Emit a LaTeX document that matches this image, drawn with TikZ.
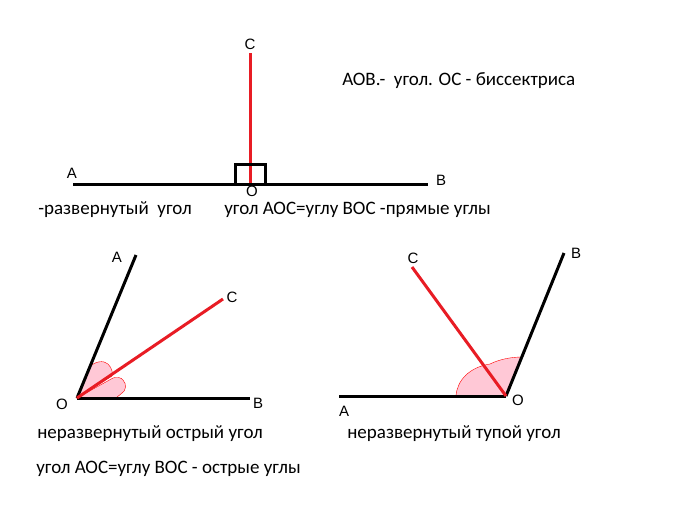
\documentclass[tikz,border=0pt]{standalone}
\usepackage{fontspec}
\setmainfont{Carlito}
\newfontfamily\lblfont{Liberation Sans}
\usepackage{tikz}
\usetikzlibrary{shapes}
\usetikzlibrary{arrows,positioning}
\definecolor{petal}{RGB}{255,200,214}
\definecolor{bisred}{RGB}{232,28,36}

\begin{document}
\begin{tikzpicture}
[x=1pt,y=-1pt,semithick,
 ray/.style={line width=3pt},
 bis/.style={line width=3pt,draw=bisred},
 pt/.style={inner sep=0pt,font=\lblfont\fontsize{15}{18}\selectfont},
 txt/.style={inner sep=0pt,anchor=west,font=\fontsize{19}{22}\selectfont},
 sector/.style={fill=petal,draw=red,thin}]
  \useasboundingbox (0,0) rectangle (688,520);
%
  \coordinate (O1) at (250,184);
  \coordinate (A1) at (73,184);
  \coordinate (B1) at (428,184);
  \coordinate (C1) at (250,53);
  \draw[ray] (A1) -- (B1);
  \draw[bis] (O1) -- (C1);
  \draw[line width=3pt] (O1) ++(-15,0) rectangle ++(30,-20);
  \node[pt] (a1) at (72,173) {A};
  \node[pt] (b1) at (441,180) {B};
  \node[pt] (c1) at (250,44) {C};
  \node[pt] (o1) at (252,191) {O};
  \node[txt] (t1) at (342,81) {АОВ.-\ \ угол. ОС - биссектриса};
  \node[txt] (t2) at (38,210) {-развернутый\ \ угол};
  \node[txt] (t3) [right=32pt of t2] {угол АОС=углу ВОС -прямые углы};
%
  \coordinate (O2) at (77,398);
  \coordinate (A2) at (136,255);
  \coordinate (B2) at (250,398);
  \coordinate (C2) at (223,299);
  \draw[sector] (O2) -- (89,368) .. controls (94,361) and (104,360) .. (108,364)
    .. controls (112,368) and (113,373) .. (112,376) -- cycle;
  \draw[sector] (O2) -- (113,378) .. controls (116,377) and (121,377) .. (123,380)
    .. controls (127,384) and (126,391) .. (122,393) -- (116,398) -- cycle;
  \draw[ray] (O2) -- (A2);
  \draw[ray] (O2) -- (B2);
  \draw[bis] (O2) -- (C2);
  \node[pt] (a2) at (117,257) {A};
  \node[pt] (b2) at (258,403) {B};
  \node[pt] (c2) at (232,297) {C};
  \node[pt] (o2) at (62,404) {O};
  \node[txt] (t4) at (37,434) {неразвернутый острый угол};
  \node[txt] (t5) at (36,469) {угол АОС=углу ВОС - острые углы};
%
  \coordinate (O3) at (506,396);
  \coordinate (A3) at (339,396);
  \coordinate (B3) at (564,253);
  \coordinate (C3) at (412,267);
  \draw[sector] (O3) -- (456,396) .. controls (457,380) and (470,367) .. (490,364)
    .. controls (500,359) and (512,357) .. (522,357) -- cycle;
  \draw[ray] (O3) -- (A3);
  \draw[ray] (O3) -- (B3);
  \draw[bis] (O3) -- (C3);
  \node[pt] (a3) at (344,411) {A};
  \node[pt] (b3) at (576,253) {B};
  \node[pt] (c3) at (413,258) {C};
  \node[pt] (o3) at (518,400) {O};
  \node[txt] (t6) at (347,434) {неразвернутый тупой угол};
\end{tikzpicture}
\end{document}
